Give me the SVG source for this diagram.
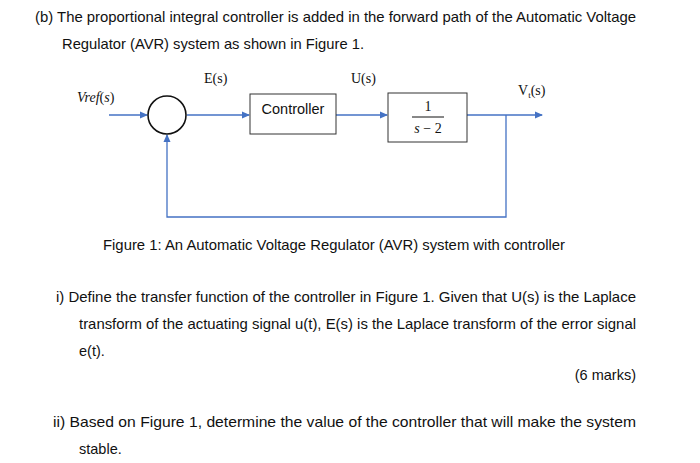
<svg xmlns="http://www.w3.org/2000/svg" width="700" height="463" viewBox="0 0 700 463">
<defs><marker id="a" markerWidth="8" markerHeight="8" refX="7" refY="4" orient="auto" markerUnits="userSpaceOnUse"><path d="M0,0.5 L8,4 L0,7.5 z" fill="#4472c4"/></marker></defs>
<style>.t{font-family:"Liberation Sans",Arial,sans-serif;font-size:14.5px;fill:#111}.m{font-family:"Liberation Serif",serif;font-size:14px;fill:#111}.c{stroke:#4472c4;stroke-width:1.3;fill:none}</style>
<rect width="700" height="463" fill="#fff"/>
<text class="t" x="35" y="22" textLength="601" lengthAdjust="spacingAndGlyphs">(b)  The proportional integral controller is added in the forward path of the Automatic Voltage</text>
<text class="t" x="62" y="49" textLength="302" lengthAdjust="spacingAndGlyphs">Regulator (AVR) system as shown in Figure 1.</text>
<g id="connectors">
<line class="c" x1="109" y1="115" x2="147" y2="115" marker-end="url(#a)"/>
<line class="c" x1="187" y1="115" x2="249" y2="115" marker-end="url(#a)"/>
<line class="c" x1="336" y1="115" x2="387" y2="115" marker-end="url(#a)"/>
<line class="c" x1="467" y1="115" x2="542" y2="115" marker-end="url(#a)"/>
<polyline class="c" points="506,115 506,217 167,217 167,135" marker-end="url(#a)"/>
</g>
<g id="sum"><circle cx="167" cy="115" r="19" fill="#fff" stroke="#111" stroke-width="1.6"/></g>
<g id="controller"><rect x="250" y="94" width="86" height="40" fill="#fff" stroke="#333"/><text class="t" x="293" y="114" text-anchor="middle">Controller</text></g>
<g id="plant"><rect x="388" y="93" width="79" height="49" fill="#fff" stroke="#333"/><text class="m" x="428" y="111" text-anchor="middle">1</text><line x1="412" y1="117" x2="444" y2="117" stroke="#111"/><text class="m" x="428" y="133" text-anchor="middle"><tspan font-style="italic">s</tspan> − 2</text></g>
<text class="m" x="77" y="102"><tspan font-style="italic">Vref</tspan>(<tspan font-style="italic">s</tspan>)</text>
<text class="m" x="204" y="83">E(s)</text>
<text class="m" x="351" y="83">U(s)</text>
<text class="m" x="518" y="95">V<tspan font-size="9" dy="3">t</tspan><tspan dy="-3">(s)</tspan></text>
<text class="t" x="103" y="250" textLength="462" lengthAdjust="spacingAndGlyphs">Figure 1: An Automatic Voltage Regulator (AVR) system with controller</text>
<text class="t" x="56" y="302" textLength="580" lengthAdjust="spacingAndGlyphs">i)  Define the transfer function of the controller in Figure 1. Given that U(s) is the Laplace</text>
<text class="t" x="79" y="329" textLength="557" lengthAdjust="spacingAndGlyphs">transform of the actuating signal u(t), E(s) is the Laplace transform of the error signal</text>
<text class="t" x="79" y="356">e(t).</text>
<text class="t" x="636" y="380" text-anchor="end">(6 marks)</text>
<text class="t" x="53" y="427" textLength="583" lengthAdjust="spacingAndGlyphs">ii)  Based on Figure 1, determine the value of the controller that will make the system</text>
<text class="t" x="79" y="454">stable.</text>
</svg>
